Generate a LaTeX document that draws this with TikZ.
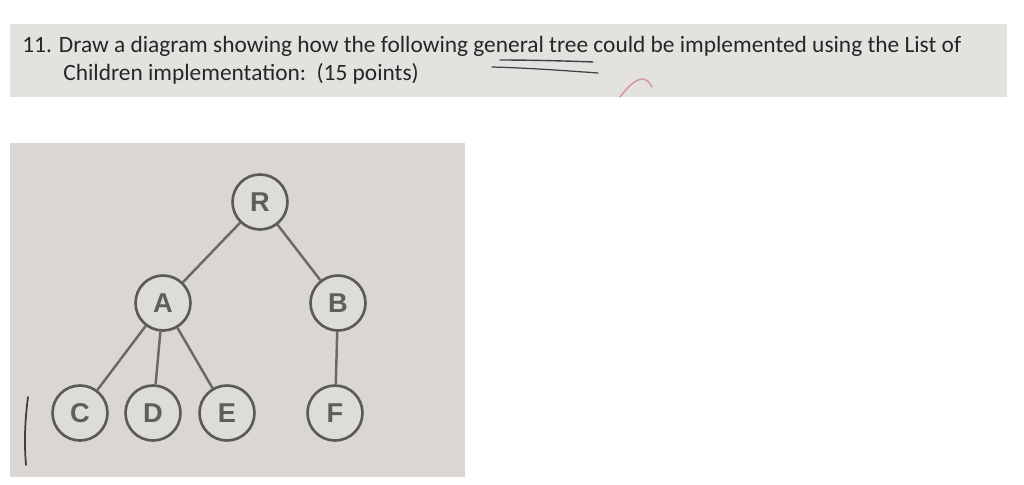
\documentclass[tikz,border=0pt]{standalone}
\usepackage{fontspec}
\setmainfont{Carlito}
\newfontfamily\treeletterfont{Liberation Sans}
\definecolor{color_sheet_bg}{HTML}{E3E2DE}
\definecolor{color_photo_bg}{HTML}{DAD7D3}
\definecolor{color_node_fill}{HTML}{DEDCD8}
\definecolor{color_node_line}{HTML}{5A5A58}
\definecolor{color_edge}{HTML}{6A6967}
\definecolor{color_node_text}{HTML}{5E5E5C}
\definecolor{color_print}{HTML}{262628}
\definecolor{color_pencil}{HTML}{3E4048}
\definecolor{color_red_pen}{HTML}{D69A9A}
\def\treenodesize{1.10cm}
\def\treeedgewidth{1.4pt}
\def\questionsize{\fontsize{13.3}{16}\selectfont}
\tikzset{
    treenode/.style={circle,draw=color_node_line,fill=color_node_fill,line width=1.5pt,
        minimum size=\treenodesize,inner sep=0pt,text=color_node_text,
        font=\treeletterfont\bfseries\fontsize{15.5}{15.5}\selectfont},
    treeedge/.style={color_edge,line width=\treeedgewidth},
    questiontext/.style={anchor=base west,inner sep=0pt,text=color_print,font=\questionsize}
}
\begin{document}
\begin{tikzpicture}[x=0.02cm,y=-0.02cm]
        \useasboundingbox (0,0) rectangle (1024,484);
        % paper strips
        \fill[color_sheet_bg] (10,24) rectangle (1007,97);
        \fill[color_photo_bg] (10,143) rectangle (465,477);
        % question
        \node[questiontext] (line1) at (22,52) {11. Draw a diagram showing how the following general tree could be implemented using the List of};
        \node[questiontext] (line2) at (63,80) {Children implementation:\ \ (15 points)};
        % pen marks
        \draw[color_pencil,line width=0.8pt,line cap=round] (500,60) .. controls (530,60) and (570,61) .. (593,62);
        \draw[color_pencil,line width=0.7pt,line cap=round] (492,67) .. controls (530,68) and (570,71) .. (598,73);
        \draw[color_red_pen,line width=0.9pt,line cap=round] (620,97) .. controls (627,88) and (634,80) .. (642,79) .. controls (647,79) and (650,83) .. (652,87);
        \draw[color_pencil,line width=1pt,line cap=round] (28,397) .. controls (25,420) and (24,442) .. (26,465);

        % the tree
        \node[treenode] (r) at (260,202) {R};
        \node[treenode] (a) at (163,303) {A};
        \node[treenode] (b) at (338,303) {B};
        \node[treenode] (c) at (80,413) {C};
        \node[treenode] (d) at (153,413) {D};
        \node[treenode] (e) at (227,413) {E};
        \node[treenode] (f) at (335,413) {F};

        \draw[treeedge] (r) -- (a);
        \draw[treeedge] (r) -- (b);
        \draw[treeedge] (a) -- (c);
        \draw[treeedge] (a) -- (d);
        \draw[treeedge] (a) -- (e);
        \draw[treeedge] (b) -- (f);
    \end{tikzpicture}
\end{document}
